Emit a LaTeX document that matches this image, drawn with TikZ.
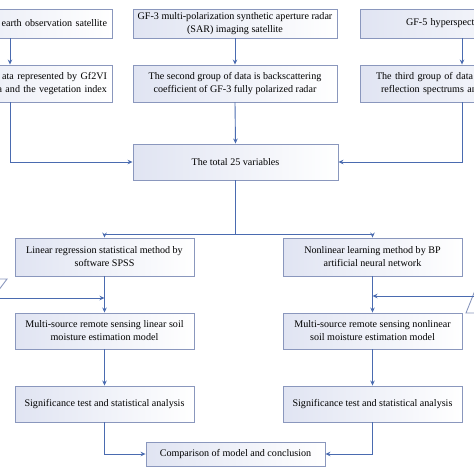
\documentclass[tikz,border=0pt]{standalone}
\usepackage{fontspec}
\setmainfont{Liberation Serif}
\usetikzlibrary{arrows.meta}
\definecolor{boxline}{HTML}{8A97BD}
\definecolor{boxfill}{HTML}{E0E4F2}
\definecolor{arr}{HTML}{4A6BB0}
\tikzset{
 box/.style={draw=boxline, line width=0.9pt, left color=boxfill, right color=white,
   font=\fontsize{10.1}{13}\selectfont, align=center, inner sep=0pt},
 conn/.style={draw=arr, line width=0.9pt, -{Stealth[length=5pt,width=4.5pt]}},
 plain/.style={draw=arr, line width=0.9pt},
 para/.style={draw=boxline, line width=0.9pt, fill=white}
}
\begin{document}
\begin{tikzpicture}[x=1pt,y=-1pt]
\useasboundingbox (0,0) rectangle (474,474);
% top row
\node[box, minimum width=204pt, minimum height=29pt, text width=194pt, align=right] (t1L) at (10,23.5) {earth observation satellite};
\node[box, minimum width=204pt, minimum height=29pt] (t1M) at (235,23.5) {GF-3 multi-polarization synthetic aperture radar\\(SAR) imaging satellite};
\node[box, minimum width=204pt, minimum height=29pt, text width=196pt, align=left] (t1R) at (462,23.5) {\hspace*{42pt}GF-5 hyperspect};
% second row
\node[box, minimum width=204pt, minimum height=37pt, text width=194pt, align=right] (t2L) at (10,83.5) {ata represented by Gf2VI\hspace*{4pt}\\a and the vegetation index};
\node[box, minimum width=204pt, minimum height=37pt] (t2M) at (235,83.5) {The second group of data is backscattering\\coefficient of GF-3 fully polarized radar};
\node[box, minimum width=204pt, minimum height=37pt, text width=196pt, align=left] (t2R) at (462,83.5) {\hspace*{12pt}The third group of data\\\hspace*{17pt}reflection spectrums and};
% total
\node[box, minimum width=205pt, minimum height=36pt] (total) at (235.5,162) {The total 25 variables};
% methods
\node[box, minimum width=179pt, minimum height=38pt] (m1L) at (104.5,257) {Linear regression statistical method by\\software SPSS};
\node[box, minimum width=179pt, minimum height=38pt] (m1R) at (372.5,257) {Nonlinear learning method by BP\\artificial neural network};
\node[box, minimum width=179pt, minimum height=36pt] (m2L) at (104.5,331) {Multi-source remote sensing linear soil\\moisture estimation model};
\node[box, minimum width=179pt, minimum height=36pt] (m2R) at (372.5,331) {Multi-source remote sensing nonlinear\\soil moisture estimation model};
\node[box, minimum width=179pt, minimum height=36pt] (m3L) at (104.5,404) {Significance test and statistical analysis};
\node[box, minimum width=179pt, minimum height=36pt] (m3R) at (372.5,404) {Significance test and statistical analysis};
\node[box, minimum width=179pt, minimum height=24pt] (fin) at (235.5,454) {Comparison of model and conclusion};
% cut-off parallelograms at the sides
\draw[para] (-60,279) -- (7,279) -- (-20,315) -- (-87,315) -- cycle;
\draw[para] (478,283) -- (540,283) -- (528,313) -- (466,313) -- cycle;
\coordinate (inL) at (0,298);
\coordinate (inR) at (474,296);
% connectors
\draw[conn] (t1L.south) -- (t2L.north);
\draw[conn] (t1M.south) -- (t2M.north);
\draw[conn] (t1R.south) -- (t2R.north);
\draw[conn] (t2L.south) |- (total.west);
\draw[conn] (t2R.south) |- (total.east);
\draw[conn] (t2M.south) -- (total.north);
\draw[conn] (total.south) -- ++(0,54) -| (m1L.north);
\draw[conn] (total.south) -- ++(0,54) -| (m1R.north);
\draw[conn] (m1L.south) -- (m2L.north);
\draw[conn] (m1R.south) -- (m2R.north);
\draw[conn] (inL) -- (inL -| m1L.south);
\draw[conn] (inR) -- (inR -| m1R.south);
\draw[conn] (m2L.south) -- (m3L.north);
\draw[conn] (m2R.south) -- (m3R.north);
\draw[conn] (m3L.south) |- (fin.west);
\draw[conn] (m3R.south) |- (fin.east);
\end{tikzpicture}
\end{document}
